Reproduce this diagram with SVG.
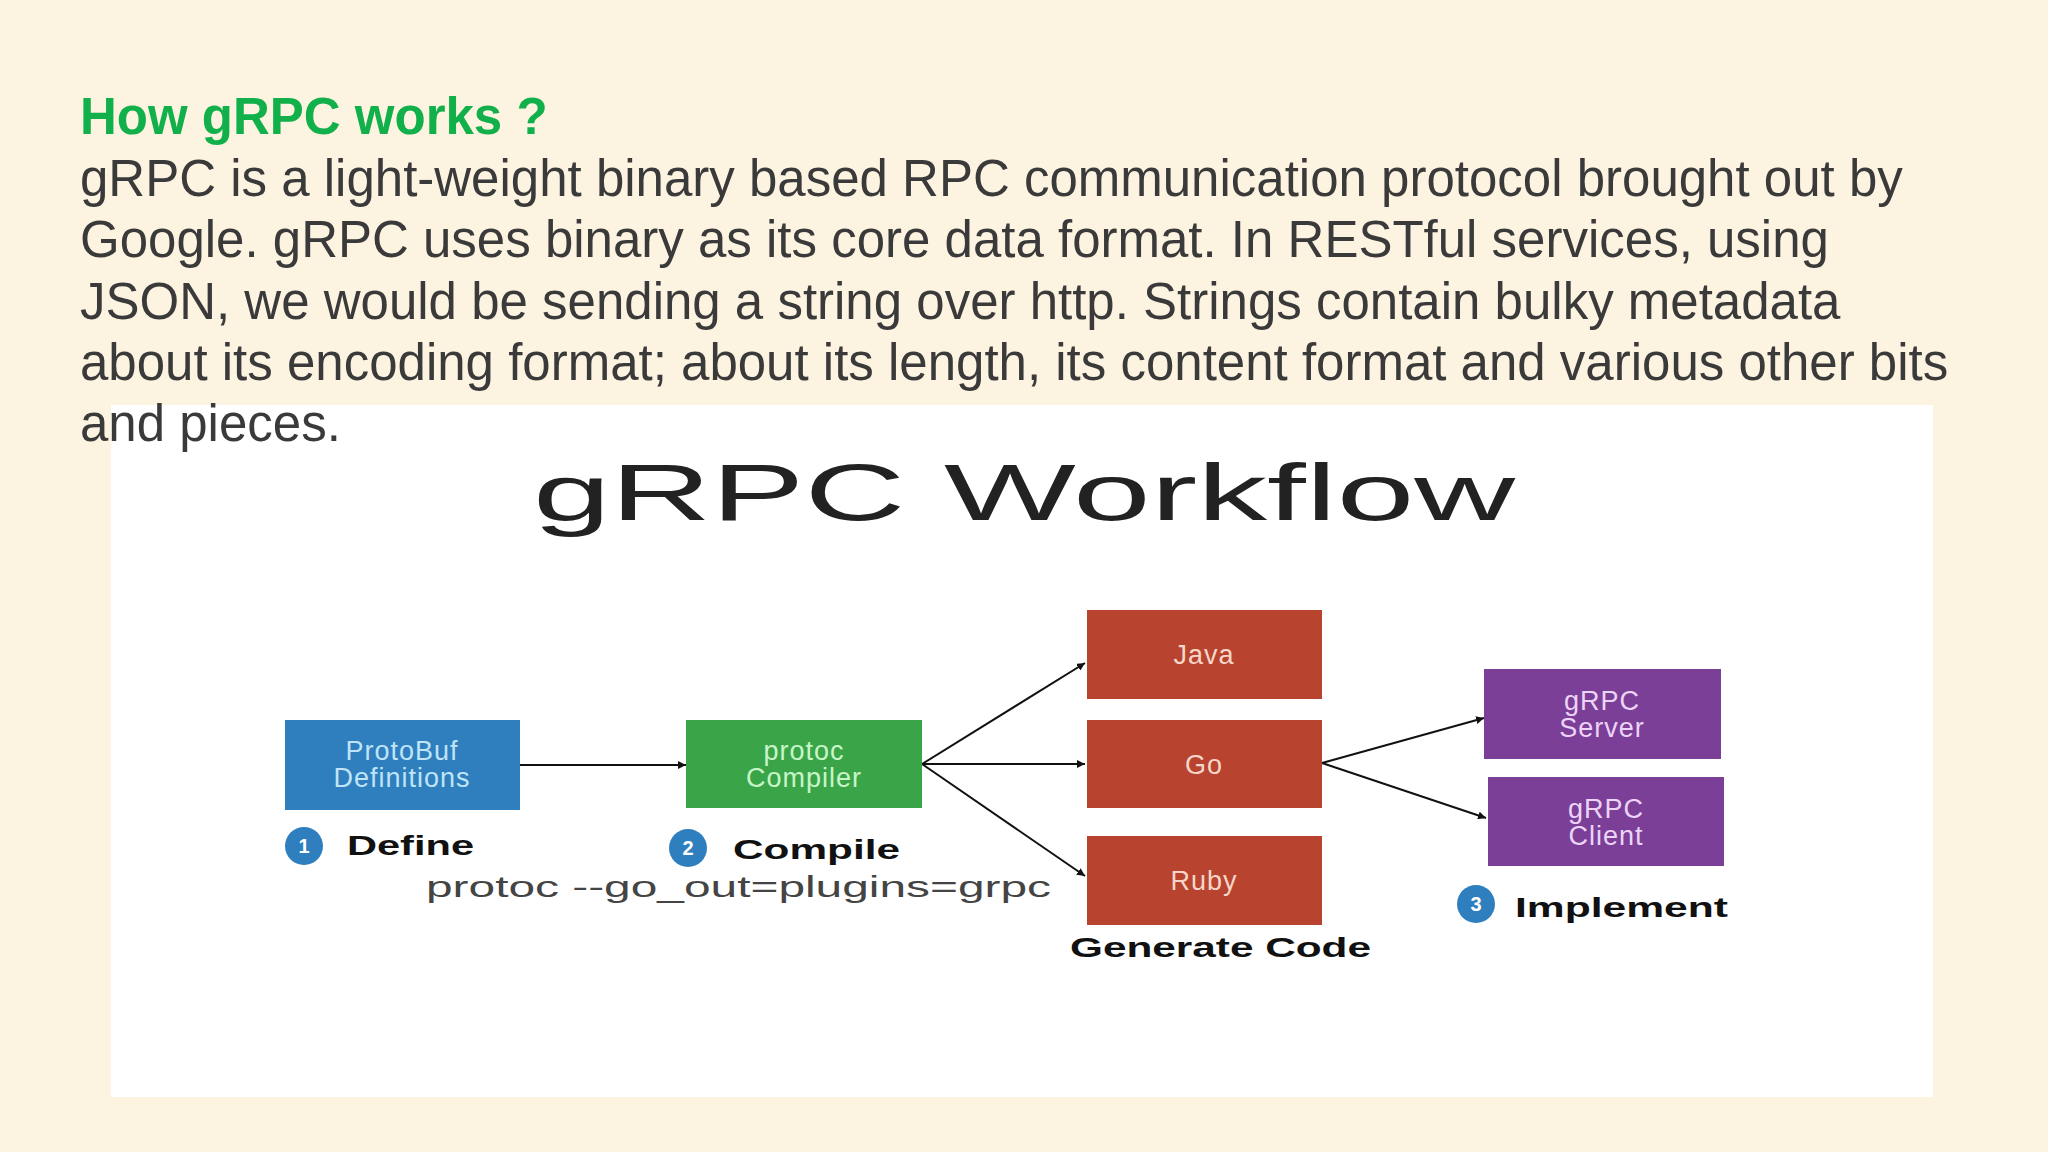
<svg xmlns="http://www.w3.org/2000/svg" width="2048" height="1152" viewBox="0 0 2048 1152">
<defs>
<marker id="ah" viewBox="0 0 10 10" refX="10" refY="5" markerWidth="8" markerHeight="8" orient="auto" markerUnits="userSpaceOnUse"><path d="M0,0L10,5L0,10z" fill="#111"/></marker>
<style>
.body{font-family:"Liberation Sans",Arial,sans-serif;font-size:51px;fill:#3a3a3a}
.bx{font-family:"Liberation Sans",Arial,sans-serif;font-size:27px;text-anchor:middle;letter-spacing:1px}
.lbl{font-family:"Liberation Sans",Arial,sans-serif;font-size:28px;font-weight:bold;fill:#111}
.num{font-family:"Liberation Sans",Arial,sans-serif;font-size:20px;font-weight:bold;fill:#fff;text-anchor:middle}
.edge{stroke:#111;stroke-width:2;fill:none;marker-end:url(#ah)}
</style>
</defs>
<rect width="2048" height="1152" fill="#fdf3e1"/>
<rect x="111" y="405" width="1822" height="692" fill="#fff"/>
<text x="80" y="134" font-family="Liberation Sans,Arial,sans-serif" font-size="51" font-weight="bold" fill="#12b04a">How gRPC works ?</text>
<text class="body" x="80" y="196">gRPC is a light-weight binary based RPC communication protocol brought out by</text>
<text class="body" x="80" y="257">Google. gRPC uses binary as its core data format. In RESTful services, using</text>
<text class="body" x="80" y="319">JSON, we would be sending a string over http. Strings contain bulky metadata</text>
<text class="body" x="80" y="380">about its encoding format; about its length, its content format and various other bits</text>
<text class="body" x="80" y="441">and pieces.</text>
<text x="533" y="520" font-family="Liberation Sans,Arial,sans-serif" font-size="80" fill="#222" textLength="982" lengthAdjust="spacingAndGlyphs">gRPC Workflow</text>
<g id="connectors">
<line class="edge" x1="520" y1="765" x2="686" y2="765"/>
<line class="edge" x1="922" y1="764" x2="1085" y2="663"/>
<line class="edge" x1="922" y1="764" x2="1085" y2="764"/>
<line class="edge" x1="922" y1="764" x2="1085" y2="876"/>
<line class="edge" x1="1322" y1="763" x2="1484" y2="718"/>
<line class="edge" x1="1322" y1="763" x2="1486" y2="818"/>
</g>
<g id="protobuf"><rect x="285" y="720" width="235" height="90" fill="#2f7fbe"/><text class="bx" fill="#bfe3f7" x="402" y="760">ProtoBuf</text><text class="bx" fill="#bfe3f7" x="402" y="787">Definitions</text></g>
<g id="protoc"><rect x="686" y="720" width="236" height="88" fill="#3aa548"/><text class="bx" fill="#c8f5c8" x="804" y="760">protoc</text><text class="bx" fill="#c8f5c8" x="804" y="787">Compiler</text></g>
<g id="java"><rect x="1087" y="610" width="235" height="89" fill="#b8432f"/><text class="bx" fill="#f6d6c8" x="1204" y="664">Java</text></g>
<g id="go"><rect x="1087" y="720" width="235" height="88" fill="#b8432f"/><text class="bx" fill="#f6d6c8" x="1204" y="774">Go</text></g>
<g id="ruby"><rect x="1087" y="836" width="235" height="89" fill="#b8432f"/><text class="bx" fill="#f6d6c8" x="1204" y="890">Ruby</text></g>
<g id="server"><rect x="1484" y="669" width="237" height="90" fill="#7b3f98"/><text class="bx" fill="#ecd4f7" x="1602" y="710">gRPC</text><text class="bx" fill="#ecd4f7" x="1602" y="737">Server</text></g>
<g id="client"><rect x="1488" y="777" width="236" height="89" fill="#7b3f98"/><text class="bx" fill="#ecd4f7" x="1606" y="818">gRPC</text><text class="bx" fill="#ecd4f7" x="1606" y="845">Client</text></g>
<g id="define"><circle cx="304" cy="846" r="19" fill="#2f7fbe"/><text class="num" x="304" y="853">1</text><text class="lbl" x="347" y="855" textLength="127" lengthAdjust="spacingAndGlyphs">Define</text></g>
<g id="compile"><circle cx="688" cy="848" r="19" fill="#2f7fbe"/><text class="num" x="688" y="855">2</text><text class="lbl" x="733" y="859" textLength="167" lengthAdjust="spacingAndGlyphs">Compile</text></g>
<text x="426" y="897" font-family="Liberation Sans,Arial,sans-serif" font-size="30" fill="#444" textLength="625" lengthAdjust="spacingAndGlyphs">protoc --go_out=plugins=grpc</text>
<text class="lbl" x="1070" y="957" textLength="301" lengthAdjust="spacingAndGlyphs">Generate Code</text>
<g id="implement"><circle cx="1476" cy="904" r="19" fill="#2f7fbe"/><text class="num" x="1476" y="911">3</text><text class="lbl" x="1515" y="917" textLength="213" lengthAdjust="spacingAndGlyphs">Implement</text></g>
</svg>
